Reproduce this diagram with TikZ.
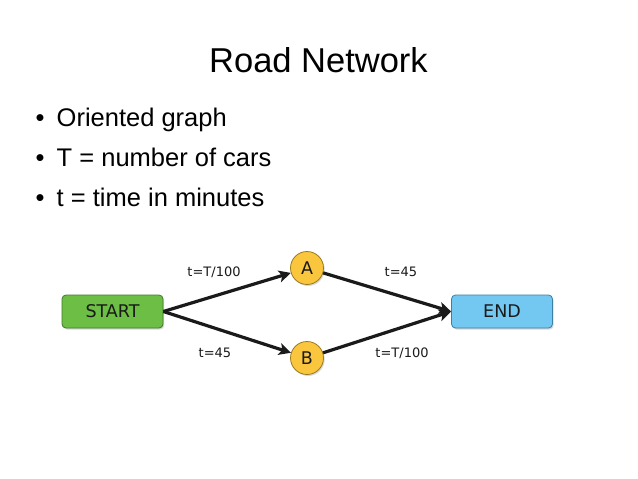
\documentclass[tikz,border=0pt]{standalone}
\usepackage{fontspec}
\setmainfont{Liberation Sans}
\newfontfamily\dejavu{DejaVu Sans}
\usetikzlibrary{arrows.meta,shadows}
\definecolor{startgreen}{HTML}{6CBE45}
\definecolor{startborder}{HTML}{3F7A28}
\definecolor{endblue}{HTML}{72C8F0}
\definecolor{endborder}{HTML}{3D7FA5}
\definecolor{gold}{HTML}{F9C63E}
\definecolor{goldborder}{HTML}{9C7A1F}
\definecolor{txt}{HTML}{1A1A1A}
\tikzset{
  box/.style={rectangle, rounded corners=4pt, minimum width=101pt, minimum height=33pt,
    line width=0.8pt, text=txt, font=\dejavu\fontsize{17.5}{20}\selectfont,
    drop shadow={shadow xshift=1.2pt, shadow yshift=-1.5pt, opacity=0.3}},
  circ/.style={circle, minimum size=33pt, inner sep=0pt, fill=gold, draw=goldborder,
    line width=0.8pt, text=txt, font=\dejavu\fontsize{17.5}{20}\selectfont,
    drop shadow={shadow xshift=1.2pt, shadow yshift=-1.5pt, opacity=0.3}},
  arr/.style={line width=3.2pt, draw=txt, -{Stealth[length=12pt,width=12pt,inset=3pt]}},
  lbl/.style={text=txt, font=\dejavu\fontsize{13}{15}\selectfont, inner sep=0pt},
  bul/.style={anchor=base west, font=\fontsize{25.5}{28}\selectfont, inner sep=0pt},
  bdot/.style={anchor=base, font=\fontsize{25.5}{28}\selectfont, inner sep=0pt},
}
\begin{document}
\begin{tikzpicture}[x=1pt,y=-1pt]
\useasboundingbox (0,0) rectangle (638,479);
\fill[white] (0,0) rectangle (638,479);
\node[anchor=base, font=\fontsize{34.5}{40}\selectfont, inner sep=0pt] (title) at (318.5,72.5) {Road Network};
\node[bdot] (b1) at (40,126.5) {•};
\node[bul] (l1) at (56.5,126.5) {Oriented graph};
\node[bdot] (b2) at (40,166.7) {•};
\node[bul] (l2) at (56.5,166.7) {T = number of cars};
\node[bdot] (b3) at (40,206) {•};
\node[bul] (l3) at (56.5,206) {t = time in minutes};

\node[box, fill=startgreen, draw=startborder] (start) at (112.5,311.5) {START};
\node[box, fill=endblue, draw=endborder] (end) at (502,311.5) {END};
\node[circ] (a) at (307,268) {A};
\node[circ] (b) at (307,358) {B};

\draw[arr] (start.east) -- (a);
\draw[arr] (start.east) -- (b);
\draw[arr] (a) -- (end.west);
\draw[arr] (b) -- (end.west);

\node[lbl] (la) at (214,272) {t=T/100};
\node[lbl] (lb) at (215,353) {t=45};
\node[lbl] (lc) at (401,272) {t=45};
\node[lbl] (ld) at (402,353) {t=T/100};
\end{tikzpicture}
\end{document}
